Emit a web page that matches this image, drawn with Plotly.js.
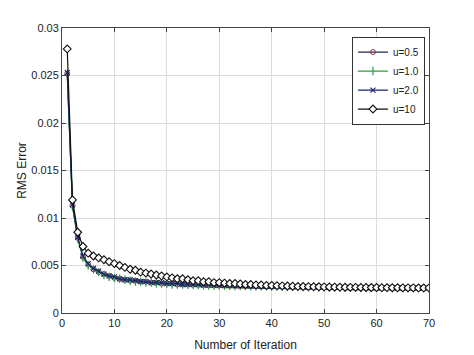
<!DOCTYPE html>
<html><head><meta charset="utf-8">
<script src="https://cdn.plot.ly/plotly-3.0.1.min.js"></script>
<style>html,body{margin:0;padding:0;background:#fff}#chart{width:474px;height:355px}</style>
</head><body><div id="chart"></div>
<script>
var iterations = [];
for (var i = 1; i <= 70; i++) iterations.push(i);

var seriesNames = ["u=0.5", "u=1.0", "u=2.0", "u=10"];

var u05 = [0.0252,0.0113,0.0079,0.0059,0.0051,0.0046,0.0043,0.0041,0.0039,0.0037,
0.0036,0.0035,0.0034,0.0034,0.0033,0.0033,0.0032,0.0032,0.0031,0.0031,
0.0031,0.0030,0.0030,0.0030,0.00298,0.00296,0.00294,0.00292,0.0029,0.0029,
0.00288,0.00287,0.00286,0.00285,0.00284,0.00283,0.00282,0.00281,0.0028,0.0028,
0.00279,0.00278,0.00277,0.00276,0.00275,0.00274,0.00273,0.00272,0.00271,0.0027,
0.0027,0.00269,0.00268,0.00268,0.00267,0.00267,0.00266,0.00266,0.00265,0.00265,
0.00264,0.00264,0.00264,0.00263,0.00263,0.00263,0.00262,0.00262,0.00262,0.00262];

var u10a = [0.0252,0.0112,0.0078,0.0058,0.0050,0.0046,0.0043,0.0040,0.0038,0.0037,
0.0036,0.0035,0.0034,0.0033,0.0033,0.0032,0.0032,0.0031,0.0031,0.0031,
0.0030,0.0030,0.0030,0.00298,0.00296,0.00294,0.00292,0.0029,0.0029,0.00288,
0.00287,0.00286,0.00285,0.00284,0.00283,0.00282,0.00281,0.0028,0.0028,0.00279,
0.00278,0.00277,0.00276,0.00275,0.00274,0.00273,0.00272,0.00271,0.0027,0.0027,
0.00269,0.00268,0.00268,0.00267,0.00267,0.00266,0.00266,0.00265,0.00265,0.00264,
0.00264,0.00264,0.00263,0.00263,0.00263,0.00262,0.00262,0.00262,0.00261,0.00261];

var u20 = [0.0253,0.0114,0.0080,0.0060,0.0052,0.0047,0.0044,0.0041,0.0039,0.0038,
0.0036,0.0035,0.0035,0.0034,0.0033,0.0033,0.0032,0.0032,0.0032,0.0031,
0.0031,0.0031,0.0030,0.0030,0.0030,0.00298,0.00295,0.00293,0.00291,0.0029,
0.00289,0.00288,0.00287,0.00286,0.00285,0.00284,0.00283,0.00282,0.00281,0.0028,
0.00279,0.00278,0.00277,0.00276,0.00275,0.00274,0.00274,0.00273,0.00272,0.00271,
0.0027,0.0027,0.00269,0.00268,0.00268,0.00267,0.00267,0.00266,0.00266,0.00265,
0.00265,0.00264,0.00264,0.00264,0.00263,0.00263,0.00263,0.00262,0.00262,0.00262];

var u100 = [0.0278,0.0119,0.0085,0.0070,0.0063,0.0060,0.0058,0.0056,0.0054,0.0052,
0.0050,0.0048,0.0046,0.0045,0.0043,0.0042,0.0041,0.0040,0.0039,0.0038,
0.0037,0.0036,0.0036,0.0035,0.0034,0.0034,0.0033,0.0033,0.0032,0.0032,
0.00315,0.0031,0.0031,0.00305,0.0030,0.0030,0.00295,0.00295,0.0029,0.0029,
0.00288,0.00286,0.00284,0.00282,0.0028,0.00279,0.00278,0.00277,0.00276,0.00275,
0.00274,0.00273,0.00272,0.00271,0.0027,0.0027,0.00269,0.00269,0.00268,0.00268,
0.00267,0.00267,0.00266,0.00266,0.00265,0.00265,0.00265,0.00264,0.00264,0.00264];

var xTicks = [0,10,20,30,40,50,60,70];
var yTicks = [0,0.005,0.01,0.015,0.02,0.025,0.03];
var yTickText = ["0","0.005","0.01","0.015","0.02","0.025","0.03"];

var traces = [
  {x: iterations, y: u05, name: seriesNames[0], mode: "lines+markers",
   line: {color: "#1f2a5a", width: 1.2},
   marker: {symbol: "circle-open", size: 5, color: "#8b3a3a", line: {width: 1}}},
  {x: iterations, y: u10a, name: seriesNames[1], mode: "lines+markers",
   line: {color: "#2e9a3e", width: 1.2},
   marker: {symbol: "line-ns-open", size: 6, color: "#2e9a3e", line: {width: 1.2}}},
  {x: iterations, y: u20, name: seriesNames[2], mode: "lines+markers",
   line: {color: "#1a2470", width: 1.2},
   marker: {symbol: "x-thin-open", size: 5, color: "#1a2470", line: {width: 1.2}}},
  {x: iterations, y: u100, name: seriesNames[3], mode: "lines+markers",
   line: {color: "#111111", width: 1.2},
   marker: {symbol: "diamond", size: 6, color: "#ffffff", line: {color: "#111111", width: 1.1}}}
];

var layout = {
  width: 474, height: 355,
  margin: {l: 62, r: 45, t: 28, b: 42},
  paper_bgcolor: "#fff", plot_bgcolor: "#fff",
  font: {family: "Liberation Sans, Arial, sans-serif", size: 11, color: "#222"},
  showlegend: true,
  legend: {x: 0.79, y: 0.97, xanchor: "left", yanchor: "top",
    bgcolor: "#fff", bordercolor: "#333", borderwidth: 1,
    font: {size: 10, color: "#222"}, tracegroupgap: 0, itemwidth: 30},
  xaxis: {range: [0, 70], tickvals: xTicks, ticks: "inside", ticklen: 4,
    showgrid: true, gridcolor: "#dcdcdc", gridwidth: 1,
    showline: true, linecolor: "#444", linewidth: 1, mirror: "ticks",
    zeroline: false, tickfont: {size: 11},
    title: {text: "Number of Iteration", font: {size: 12}, standoff: 12}},
  yaxis: {range: [0, 0.03], tickvals: yTicks, ticktext: yTickText, ticks: "inside", ticklen: 4,
    showgrid: true, gridcolor: "#dcdcdc", gridwidth: 1,
    showline: true, linecolor: "#444", linewidth: 1, mirror: "ticks",
    zeroline: false, tickfont: {size: 11},
    title: {text: "RMS Error", font: {size: 12}, standoff: 2}}
};

Plotly.newPlot("chart", traces, layout, {displayModeBar: false, staticPlot: true});
</script></body></html>
